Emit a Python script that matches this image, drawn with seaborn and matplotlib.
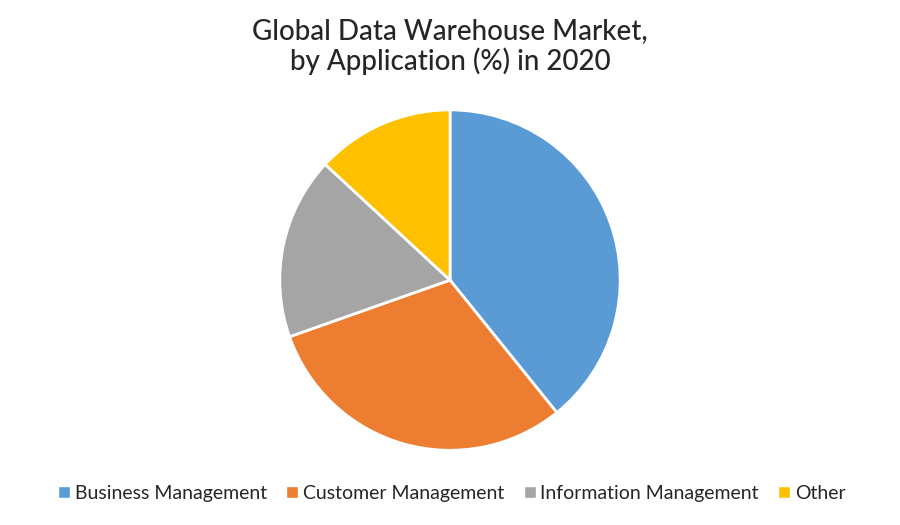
import matplotlib
matplotlib.use("Agg")
import matplotlib.pyplot as plt
import seaborn as sns

sns.set_theme(style="white")
plt.rcParams['font.family'] = ['Lato', 'DejaVu Sans']

categories = ["Business Management", "Customer Management", "Information Management", "Other"]
values = [39.2, 30.4, 17.3, 13.1]
colors = ["#5B9BD5", "#ED7D31", "#A5A5A5", "#FFC000"]

fig = plt.figure(figsize=(9, 5.25), dpi=100)
ax = fig.add_axes([0.5 - 0.191, 0.139, 0.382, 0.655])
ax.pie(values, colors=colors, startangle=90, counterclock=False,
       wedgeprops=dict(edgecolor="white", linewidth=2))
ax.set_xlim(-1.01, 1.01)
ax.set_ylim(-1.01, 1.01)
ax.set_aspect("equal")
fig.text(0.5, 0.965, "Global Data Warehouse Market,\nby Application (%) in 2020",
         ha="center", va="top", fontsize=20, linespacing=1.15, fontweight="medium")
handles = [plt.Line2D([0], [0], marker="s", color="w", markerfacecolor=c,
                      markersize=8) for c in colors]
fig.legend(handles, categories, loc="lower center", ncol=4, frameon=False,
           fontsize=14, bbox_to_anchor=(0.5, 0.01), handletextpad=0.05,
           columnspacing=0.8, handlelength=1.0)
fig.savefig("out.png", dpi=100)
